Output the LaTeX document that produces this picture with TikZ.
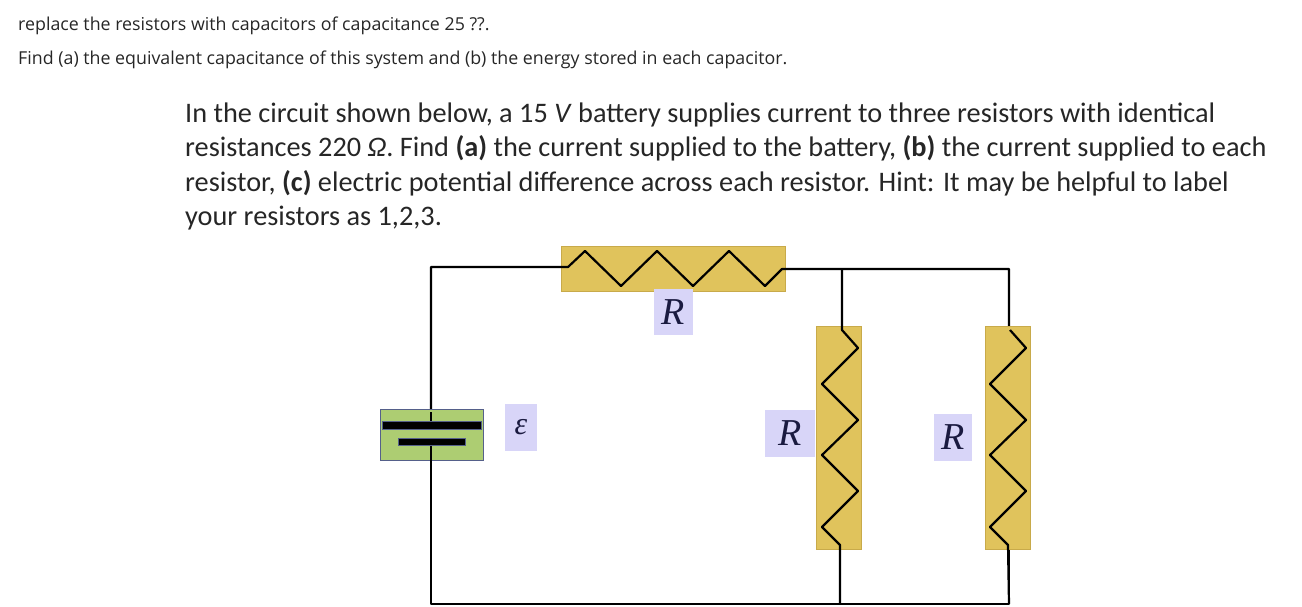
\documentclass[tikz,border=0pt]{standalone}
\usepackage{fontspec}
\setmainfont{Carlito}
\newfontfamily\uifont{Open Sans}
\newfontfamily\serifit{Liberation Serif}
\definecolor{resfill}{HTML}{E0C35C}
\definecolor{resedge}{HTML}{C8AA4A}
\definecolor{batfill}{HTML}{ADCD72}
\definecolor{batedge}{HTML}{55608A}
\definecolor{labfill}{HTML}{D8D5F8}
\definecolor{labtext}{HTML}{1A1A40}
\tikzset{
  wire/.style={line width=2.2pt, line join=round},
  resbox/.style={fill=resfill, draw=resedge, line width=0.8pt},
  lab/.style={fill=labfill, text=labtext, inner sep=0pt, font=\fontsize{38}{38}\serifit\itshape},
  uitext/.style={anchor=base west, inner sep=0pt, font=\fontsize{17.8}{20}\uifont, text=black!85},
  para/.style={anchor=base west, inner sep=0pt, font=\fontsize{28.3}{30}\selectfont, text=black!85}
}
\begin{document}
\begin{tikzpicture}[x=1pt,y=-1pt]
\useasboundingbox (0,0) rectangle (1302,606);
% texts
\node[uitext] (t1) at (18,30) {replace the resistors with capacitors of capacitance 25 ??.};
\node[uitext] (t2) at (18,64) {Find (a) the equivalent capacitance of this system and (b) the energy stored in each capacitor.};
\node[para] (p1) at (185,122) {In the circuit shown below, a 15 \textit{V} battery supplies current to three resistors with identical};
\node[para] (p2) at (185,156) {resistances 220 \textit{Ω}. Find \textbf{(a)} the current supplied to the battery, \textbf{(b)} the current supplied to each};
\node[para] (p3) at (185,191) {resistor, \textbf{(c)} electric potential difference across each resistor. Hint: It may be helpful to label};
\node[para] (p4) at (185,225) {your resistors as 1,2,3.};
% wires
\coordinate (tl) at (431,267);
\coordinate (bl) at (431,604);
\coordinate (tr) at (1009,269);
\coordinate (br) at (1009,604);
\coordinate (jm) at (842,269);
\coordinate (bm) at (840,604);
% top resistor
\node[resbox, minimum width=224pt, minimum height=45pt, inner sep=0pt] (r1) at (673,268.5) {};
\draw[wire] (431,409) -- (tl) -- (568,267) -- (585,251) -- (621,286) -- (657,251) -- (693,286) -- (729,251) -- (765,286) -- (782,269) -- (tr) -- (1009,330);
% battery
\node[fill=batfill, draw=batedge, line width=1pt, minimum width=103pt, minimum height=51pt, inner sep=0pt] (bat) at (431.5,434.5) {};
\draw[wire] (431,412) -- (431,425);
\draw[line width=1pt, draw=batedge, fill=black] (382,421) rectangle (481,429);
\draw[line width=1pt, draw=batedge, fill=black] (398,438.5) rectangle (465,445.5);
\draw[wire] (431,446) -- (bl) -- (br) -- (1009,545);
% middle resistor
\node[resbox, minimum width=45pt, minimum height=223pt, inner sep=0pt] (r2) at (838.5,437.5) {};
\draw[wire] (jm) -- (842,330) -- (858,348) -- (822,384) -- (858,420) -- (822,455) -- (858,491) -- (822,527) -- (840,545) -- (bm);
% right resistor
\node[resbox, minimum width=45pt, minimum height=223pt, inner sep=0pt] (r3) at (1007.5,437.5) {};
\draw[wire] (1010,330) -- (1026,348) -- (990,384) -- (1026,420) -- (990,455) -- (1026,491) -- (990,527) -- (1008,545) -- (1009,604);
% labels
\node[lab, minimum width=32pt, minimum height=47pt] (le) at (521,427.5) {\fontsize{32}{32}\selectfont ε};
\node[lab, minimum width=39pt, minimum height=46pt] (l1) at (673.5,312) {R};
\node[lab, minimum width=50pt, minimum height=47pt] (l2) at (790,433.5) {R};
\node[lab, minimum width=38pt, minimum height=47pt] (l3) at (953,437.5) {R};
\end{tikzpicture}
\end{document}
